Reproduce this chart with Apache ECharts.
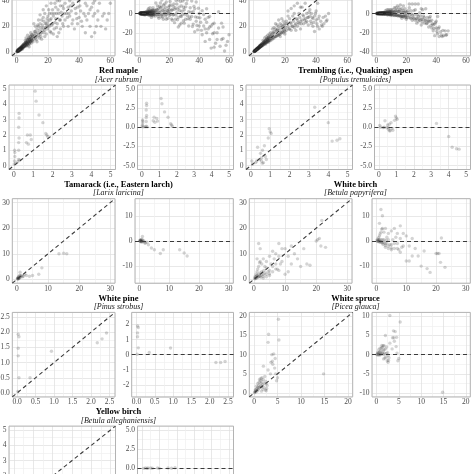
<!DOCTYPE html>
<html>
<head>
<meta charset="utf-8">
<script src="https://cdn.jsdelivr.net/npm/echarts@6/dist/echarts.min.js"></script>
<style>
html, body { margin: 0; padding: 0; background: #fff; }
#main { width: 474px; height: 474px; }
</style>
</head>
<body>
<div id="main"></div>
<script>
var speciesTopLeft = [
  [0.2,0.2],[0.3,0.4],[0.4,0.6],[0.5,0.8],[0.5,1.5],[0.5,0.3],[0.6,0.9],[0.7,0.5],[0.8,1.2],[0.9,1.4],[1,1.5],[1,0.5],[1,2],[1,1],
  [1.1,0.8],[1.2,0.6],[1.3,1.6],[1.4,1.9],[1.5,2.5],[1.5,1],[1.5,1.5],[1.6,2],[1.7,1.4],[1.8,1.2],[1.9,2.3],
  [2,1.8],[2,3],[2,2.5],[2,2],[2.1,1.5],[2.2,2.6],[2.3,2.9],[2.5,2],[2.5,1.5],[2.5,3],[2.6,2.4],[2.7,3.8],[2.8,3.3],[2.9,2.2],
  [3,2.5],[3,4],[3,3],[3,3.5],[3.1,4.2],[3.2,3.6],[3.3,2.8],[3.5,3],[3.5,2],[3.5,4.5],[3.6,3.6],[3.8,4.4],[3.9,5.2],
  [4,5],[4,3.2],[4,4],[4,3],[4.1,3.6],[4.2,4.8],[4.3,5.9],[4.5,4],[4.5,5.5],[4.6,4.4],[4.8,6.5],[5,6],[5,4.5],[5,5],[5.2,4.2],
  [5.3,6.2],[5.5,7],[5.5,9],[5.5,5],[5.7,7.5],[5.8,5.6],[6,5],[6,8],[6,11],[6,6.5],[6.2,7.4],[6.3,4.6],[6.5,6.5],[6.5,7],[6.7,9.5],
  [6.8,6],[7,9],[7,6],[7,13],[7,7.5],[7.2,8.4],[7.3,5.2],[7.5,10],[7.5,8],[7.7,11],[7.8,7],[8,7],[8,11],[8,4],[8.2,9.8],[8.3,6.2],
  [8.5,8.5],[8.5,9.5],[8.7,12.5],[8.8,8],[9,12],[9,8],[9,15],[9.2,10.5],[9.3,7],[9.5,10],[9.5,9],[9.7,13.5],[9.8,11],
  [10,13],[10,9],[10.5,12],[10.5,8],[11,14],[11,10],[11,22],[11.5,16],[11.5,12.5],[12,16],[12,11],[12,20],[12.5,14],[12.5,9.5],
  [13,18],[13,12],[13,8],[13.5,15],[13.5,21],[14,20],[14,13],[14,25],[14.5,17],[14.5,11],[15,22],[15,14],[15,29],[15.5,19],[15.5,12],
  [16,25],[16,15],[16,10],[16.5,21],[16.5,17],[17,19],[17,27],[17,33],[17.5,15],[17.5,24],[18,17],[18,30],[18,12],[18.5,22],[18.5,19],
  [19,22],[19,14],[19,36],[19.5,26],[19.5,20],[20,24],[20,18],[20,28],[20.5,21],[20.5,33],
  [21,30],[21,20],[21.5,25],[21.5,16],[22,26],[22,38],[22,15],[22.5,30],[22.5,21],[23,22],[23,33],[23.5,28],[23.5,14],
  [24,30],[24,18],[24,44],[24.5,38],[24.5,23],[25,35],[25,26],[25.5,30],[25.5,19],[26,40],[26,22],[26,12],[26.5,33],
  [27,30],[27,15],[27.5,25],[27.5,40],[28,36],[28,25],[28,18],[28.5,31],[29,42],[29,28],[29.5,22],[29.5,36],[30,34],[30,20],[30,45],
  [30.5,30],[31,38],[31,25],[31.5,42],[32,30],[32,46],[32.5,27],[33,35],[33,20],[33.5,30],[34,40],[34,28],[34.5,36],
  [35,32],[35,48],[35.5,22],[36,25],[36,38],[36.5,44],[37,42],[37,18],[37.5,34],[38,30],[38,50],[38.5,26],[39,35],[39,22],[39.5,45],
  [40,40],[40,27],[40.5,36],[41,32],[41.5,24],[42,45],[42,20],[43,30],[43,42],[44,38],[44,15],[44,28],[45,25],[45,50],[45,36],
  [46,42],[46,30],[47,20],[47,33],[47,44],[48,35],[48,12],[49,28],[49,38],[50,15],[50,40],[50,30],[51,20],[52,25],[52,32],
  [53,55],[53,38],[54,20],[55,45],[55,28],[56,30],[56,42],[57,18],[58,25],[59,30],[60,38]
];
var speciesTopRight = [
  [0.2,0.3],[0.3,0.5],[0.4,0.5],[0.5,0.6],[0.5,0.4],[0.6,0.8],[0.7,0.6],[0.8,1.4],[0.9,1.1],[1,1.2],[1,0.8],[1,1],[1.1,1.3],
  [1.2,0.9],[1.3,1.2],[1.4,1.7],[1.5,1.4],[1.5,1.8],[1.6,1.9],[1.7,1.5],[1.8,2.5],[1.9,2.2],[2,2.4],[2,1.7],[2,2],[2.1,2.5],
  [2.2,1.8],[2.3,2.2],[2.4,2.9],[2.5,2.2],[2.5,2.8],[2.6,2.5],[2.7,3.2],[2.8,3.6],[2.9,2.8],[3,3.5],[3,2.7],[3,3],[3.1,3.6],
  [3.2,2.8],[3.3,3.2],[3.4,4.1],[3.5,3.1],[3.5,4],[3.6,3.5],[3.7,4.3],[3.8,4.8],[3.9,3.8],[4,4.6],[4,3.6],[4,4],[4.1,4.8],
  [4.2,3.8],[4.3,4.2],[4.4,5.2],[4.5,4.2],[4.5,5],[4.6,4.5],[4.7,5.5],[4.8,6],[4.9,4.7],[5,5.5],[5,4.6],[5,5],[5.2,6.2],[5.4,5.2],
  [5.5,6.5],[5.5,4.8],[5.7,6.8],[5.8,5.5],[6,5.2],[6,9],[6,6.2],[6.2,7.2],[6.3,5.9],[6.5,8],[6.7,7.8],[6.8,6.4],[7,6.5],[7,11],
  [7,7.4],[7.2,8.5],[7.3,6.8],[7.5,9],[7.5,6],[7.7,9.2],[7.8,7.2],[8,7.2],[8,12],[8,8.2],[8.2,9.8],[8.3,7.6],[8.5,10],[8.7,10.3],
  [8.8,8.1],[9,8],[9,13],[9,9.4],[9.2,11],[9.3,8.5],[9.5,11],[9.5,7.5],[9.7,11.6],[9.8,9],[10,9],[10,14],[10,10.5],
  [10.5,12.5],[10.5,9.5],[11,12],[11,9],[11,15],[11.5,13],[11.5,10.5],[12,14],[12,10],[12,18],[12.5,15],[12.5,11],
  [13,16],[13,11],[13,19],[13.5,14.5],[13.5,12],[14,18],[14,12],[14,22],[14.5,16.5],[14.5,12],[15,17],[15,13],[15,21],
  [15.5,18],[15.5,13.5],[16,20],[16,13],[16,25],[16.5,17],[16.5,14],[17,22],[17,14],[17,12],[17.5,19],[17.5,15],
  [18,21],[18,15],[18,26],[18.5,20],[18.5,16],[19,24],[19,15],[19,18],[19.5,21],[19.5,17],[20,22],[20,16],[20,14],[20.5,19],
  [21,24],[21,17],[21.5,22],[22,20],[22,28],[22,32],[22.5,18],[23,18],[23,26],[23.5,23],[24,22],[24,17],[24,34],[24.5,20],
  [25,28],[25,20],[25.5,24],[26,19],[26,30],[26,36],[26.5,21],[27,22],[27,17],[27.5,26],[28,25],[28,20],[28,38],[28.5,23],
  [29,30],[29,22],[29.5,27],[30,24],[30,18],[30,35],[30.5,22],[31,25],[31,35],[31.5,29],[32,22],[32,28],[32.5,25],[33,26],[33,38],
  [33.5,23],[34,24],[34,30],[34.5,27],[35,21],[35,27],[35.5,31],[36,28],[36,33],[36.5,24],[37,22],[37,30],[37.5,27],[38,20],[38,26],
  [38.5,23],[39,28],[39,16],[39.5,30],[40,25],[40,32],[40.5,22],[41,20],[41,38],[41.5,26],[42,18],[42,28],[43,24],[43.5,21],
  [44,20],[44.5,27],[45,22],[46,28],[46.5,24],[47,25],[48,30]
];
var redMaple = [
  [0.02,0.1],[0.03,0.3],[0.05,0.6],[0.05,0.85],[0.04,1.0],[0.1,0.15],[0.2,0.25],[0.25,0.4],[0.25,1.0],[0.25,1.5],[0.27,1.8],[0.25,2.5],
  [0.27,3.1],[0.27,3.4],[0.3,0.35],[0.65,1.5],[0.7,2.0],[0.75,1.4],[0.85,2.0],[0.9,1.7],[1.1,4.85],[1.15,4.2],[1.3,3.3],[1.5,2.8],
  [1.65,2.1],[1.7,2.0],[1.75,1.9]
];
var aspen = [
  [0.05,0.3],[0.1,0.1],[0.25,0.2],[0.3,0.3],[0.35,1.2],[0.45,0.4],[0.5,0.8],[0.55,0.5],[0.55,0.3],[0.6,1.0],[0.6,0.15],[0.65,0.2],
  [0.7,1.3],[0.75,0.6],[0.8,0.4],[0.9,1.8],[0.95,2.4],[1.0,2.2],[1.05,2.1],[3.3,3.8],[4.0,2.8],[4.2,1.6],[4.45,1.65],[4.6,1.75]
];
var tamarack = [
  [0.1,0.2],[0.2,0.5],[0.3,0.1],[0.3,0.3],[0.4,0.8],[0.5,0.6],[0.5,0.2],[0.6,1.0],[0.7,0.4],[0.8,1.5],[0.9,0.6],[1.0,2.8],[1.1,1.4],
  [1.2,0.9],[1.5,1.5],[1.8,1.0],[2.0,1.2],[2.5,2.0],[3.0,1.5],[4.0,1.2],[5.0,1.5],[7.0,2.0],[8.0,4.5],[13.5,10.0],[15.0,10.2],[16.0,10.0]
];
var whiteBirch = [
  [0.2,0.3],[0.4,0.2],[0.5,0.8],[0.6,0.4],[0.8,1.2],[1,0.6],[1,1.5],[1.2,0.9],[1.5,2],[1.5,1],[1.8,1.4],[2,2.5],[2,1.2],[2.2,0.8],
  [2.5,1.8],[2.5,3],[3,2],[3,1.2],[3.2,3.5],[3.5,2.5],[4,2],[4,4.5],[4.5,3],[5,3.5],[5,2.2],[0.3,1],[0.7,2],[1,3],[1.2,4],[1.5,5],
  [1.8,6.5],[2,7],[1.5,14],[2,12],[1,8],[2.5,6],[3,8],[3.5,5],[4,7],[5,9],[5.5,6],[6,5],[6,11],[6.5,8],[7,6],[7,10],[7.5,4],
  [8,14],[8,9],[8.5,6],[9,7],[9,12],[10,12],[10,2],[11,3],[11,9],[12,13],[12,6],[13,10],[14,8],[15,5],[16,12],[17,6],[18,5.5],
  [20,15],[21,16],[20.5,15.5],[21.5,13],[21.8,23],[23,12.5],[6,3],[7,4],[8,3.5],[5,1.5],[4,1],[3,0.5]
];
var whitePine = [
  [0.02,0.05],[0.03,1.93],[0.05,1.85],[0.03,1.47],[0.03,1.22],[0.05,0.5],[0.35,0.5],[0.93,1.37],[2.17,1.65],[2.3,1.78],[2.42,1.97]
];
var whiteSpruce = [
  [0.1,0.1],[0.2,0.4],[0.3,0.2],[0.3,0.9],[0.4,0.8],[0.5,0.5],[0.5,1.8],[0.6,1.2],[0.7,0.6],[0.8,1.5],[0.8,2.5],[0.9,0.9],[1,2],
  [1,1.2],[1.1,2.8],[1.2,1.5],[1.2,3.6],[1.3,3.2],[1.4,1.8],[1.5,3.8],[1.5,2.5],[1.6,1.6],[1.6,0.5],[1.7,4],[1.7,3],[1.8,2.2],
  [1.9,1],[2,7],[2,3.5],[2.1,1.5],[2.2,2.5],[2.3,4.3],[2.4,0.8],[2.5,3],[2.6,0.6],[2.6,2.4],[2.7,1.2],[2.8,2],[3,6],[3,13.2],
  [3.1,15.3],[3.5,5],[3.6,8],[3.8,10],[3.9,8.3],[4,7.5],[4.2,10.2],[4.4,6.5],[4.5,9],[4.6,5],[4.8,3.2],[5,4],[5.2,19.2],[5.3,13.8],
  [14.8,5]
];
var yellowBirch = [
  [0.1,0.1],[0.2,0.25],[0.3,0.3],[0.35,0.4],[0.5,0.55],[0.6,0.62],[0.9,0.95],[1.0,1.0],[1.5,1.55],[1.7,1.72],[1.9,1.97]
];

var commonNames = ['', '', 'Red maple', 'Trembling (i.e., Quaking) aspen', 'Tamarack (i.e., Eastern larch)', 'White birch',
  'White pine', 'White spruce', 'Yellow birch'];
var latinNames = ['', '', 'Acer rubrum', 'Populus tremuloides', 'Larix laricina', 'Betula papyrifera',
  'Pinus strobus', 'Picea glauca', 'Betula alleghaniensis'];
var speciesData = [speciesTopLeft, speciesTopRight, redMaple, aspen, tamarack, whiteBirch, whitePine, whiteSpruce, yellowBirch];

// layout of each species block: panel edges, axis limits and label step
var layouts = [
  {col:0, row:0, l:[12,115], r:[135,233.5], lim:[-3,63], step:20, dec:0, dlim:[-44,44], dstep:20, ddec:0},
  {col:1, row:0, l:[12,115], r:[135,233.5], lim:[-3,63], step:20, dec:0, dlim:[-44,44], dstep:20, ddec:0},
  {col:0, row:1, l:[9,115.5], r:[137.5,233.5], lim:[-0.25,5.25], step:1, dec:0, dlim:[-5.5,5.5], dstep:2.5, ddec:1},
  {col:1, row:1, l:[9,115.5], r:[137.5,233.5], lim:[-0.25,5.25], step:1, dec:0, dlim:[-5.5,5.5], dstep:2.5, ddec:1},
  {col:0, row:2, l:[12.3,115], r:[135,233.3], lim:[-1.5,31.5], step:10, dec:0, dlim:[-16.8,16.8], dstep:10, ddec:0},
  {col:1, row:2, l:[12.3,115], r:[135,233.3], lim:[-1.5,31.5], step:10, dec:0, dlim:[-16.8,16.8], dstep:10, ddec:0},
  {col:0, row:3, l:[12.3,115], r:[131.7,233.5], lim:[-0.13,2.65], step:0.5, dec:1, dlim:[-2.8,2.8], dstep:1, ddec:0},
  {col:1, row:3, l:[12.3,115.7], r:[135,233.3], lim:[-1,21], step:5, dec:0, dlim:[-11,11], dstep:5, ddec:0},
  {col:0, row:4, l:[9,115.5], r:[137.5,233.5], lim:[-0.25,5.25], step:1, dec:0, dlim:[-5.5,5.5], dstep:2.5, ddec:1}
];

var blockW = 237, firstTop = -28.7, rowPitch = 113.7, panelH = 84.5;
var fam = '"Liberation Serif", "DejaVu Serif", serif';
var majorC = '#dedede', minorC = '#efefef';

function makeAxis(gi, lim, step, dec, isX) {
  var minor = step / 2;
  var first = Math.ceil(lim[0] / minor - 1e-9) * minor;
  var k0 = first / step;
  var firstMajor = Math.abs(k0 - Math.round(k0)) < 1e-6;
  return {
    type: 'value', gridIndex: gi, min: lim[0], max: lim[1],
    minInterval: minor, maxInterval: minor, splitNumber: 10,
    axisLine: {show: false},
    axisTick: {show: false},
    axisLabel: {
      margin: isX ? 1.5 : 2.5, fontSize: 7.5, color: '#4d4d4d', fontFamily: fam,
      formatter: function (v) {
        var k = v / step;
        if (Math.abs(k - Math.round(k)) > 1e-6) return '';
        return (Math.round(k) * step).toFixed(dec);
      }
    },
    splitLine: {show: true, lineStyle: {color: firstMajor ? [minorC, majorC] : [majorC, minorC], width: 0.7}}
  };
}

var grids = [], xAxes = [], yAxes = [], series = [], texts = [];
layouts.forEach(function (b, i) {
  var top = firstTop + b.row * rowPitch;
  var x0 = b.col * blockW;
  var pts = speciesData[i];
  var diffs = pts.map(function (p) { return [p[0], p[1] - p[0]]; });
  var gl = grids.length, gr = gl + 1;
  [b.l, b.r].forEach(function (edge) {
    grids.push({left: x0 + edge[0], top: top, width: edge[1] - edge[0], height: panelH,
      show: true, borderColor: '#b3b3b3', borderWidth: 1, backgroundColor: 'rgba(0,0,0,0)',
      z: 5, containLabel: false, outerBoundsMode: 'none'});
  });
  xAxes.push(makeAxis(gl, b.lim, b.step, b.dec, true));
  yAxes.push(makeAxis(gl, b.lim, b.step, b.dec, false));
  xAxes.push(makeAxis(gr, b.lim, b.step, b.dec, true));
  yAxes.push(makeAxis(gr, b.dlim, b.dstep, b.ddec, false));
  var alpha = b.row === 0 ? 0.34 : 0.25;
  var dash = {type: [4, 3], color: '#3a3a3a', width: 1.1};
  series.push({
    type: 'scatter', xAxisIndex: gl, yAxisIndex: gl, data: pts, symbolSize: 3.4,
    itemStyle: {color: 'rgba(40,40,40,' + alpha + ')'},
    markLine: {silent: true, symbol: 'none', label: {show: false}, lineStyle: dash,
      data: [[{coord: [b.lim[0], b.lim[0]]}, {coord: [b.lim[1], b.lim[1]]}]]}
  });
  series.push({
    type: 'scatter', xAxisIndex: gr, yAxisIndex: gr, data: diffs, symbolSize: 3.4,
    itemStyle: {color: 'rgba(40,40,40,' + alpha + ')'},
    markLine: {silent: true, symbol: 'none', label: {show: false}, lineStyle: dash,
      data: [{yAxis: 0}]}
  });
  if (commonNames[i]) {
    var cx = x0 + 118.5;
    texts.push({type: 'text', x: cx, y: top - 14, silent: true,
      style: {text: commonNames[i], font: 'bold 8.5px ' + fam, fill: '#000',
        textAlign: 'center', textVerticalAlign: 'middle', align: 'center', verticalAlign: 'middle'}});
    texts.push({type: 'text', x: cx, y: top - 5.5, silent: true,
      style: {text: '[' + latinNames[i] + ']', font: 'italic 8px ' + fam, fill: '#1a1a1a',
        textAlign: 'center', textVerticalAlign: 'middle', align: 'center', verticalAlign: 'middle'}});
  }
});

var chart = echarts.init(document.getElementById('main'));
chart.setOption({
  animation: false,
  backgroundColor: '#fff',
  grid: grids,
  xAxis: xAxes,
  yAxis: yAxes,
  series: series,
  graphic: texts
});
</script>
</body>
</html>
